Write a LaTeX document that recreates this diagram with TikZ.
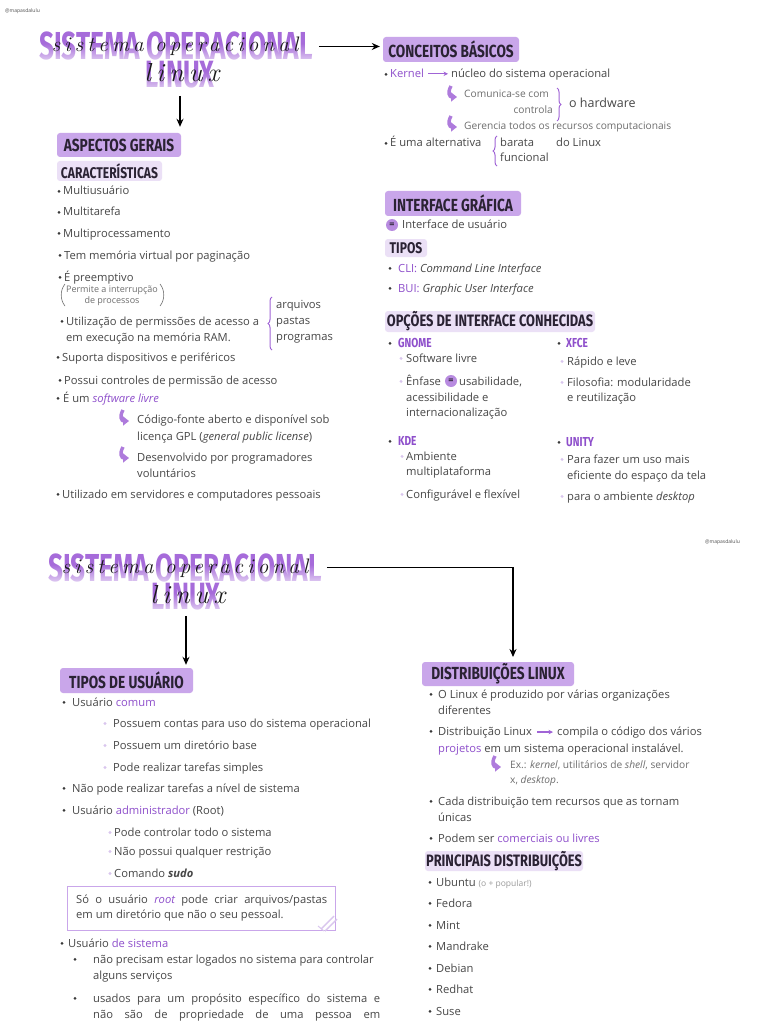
\documentclass[tikz,border=0pt]{standalone}
\usepackage{fontspec}
\setmainfont{Open Sans}
\newfontfamily\hfont{Fira Sans}[FakeStretch=0.78]
\newfontfamily\tfont{Fira Sans}[FakeStretch=0.672]
\newfontfamily\cursf{Latin Modern Roman}[LetterSpace=20]
\usetikzlibrary{arrows.meta,decorations.pathreplacing,calc,fadings}
\definecolor{hdark}{HTML}{C9A6EA}
\definecolor{hlight}{HTML}{EBE0F6}
\definecolor{purp}{HTML}{A064D6}
\definecolor{ptxt}{HTML}{8E4FCB}
\definecolor{bodyc}{HTML}{474747}
\definecolor{gtxt}{HTML}{6E6E6E}
\definecolor{lbulc}{HTML}{D9C6EE}
\definecolor{hd}{HTML}{2A2233}
\definecolor{tpa}{HTML}{A66BDA}
\newcounter{nn}
\def\zTx#1#2#3{\stepcounter{nn}\node[txt] (t\arabic{nn}) at (#1,#2) {#3};}
\def\zSm#1#2#3{\stepcounter{nn}\node[smt] (t\arabic{nn}) at (#1,#2) {#3};}
\def\zBu#1#2{\fill[bodyc!80!black] (#1,#2-3.6) circle (1.5pt);}
\def\zLb#1#2{\fill[lbulc] (#1,#2-3.6) circle (1.6pt);}
\def\zHk#1#2{\draw[hookarr] (#1,#2) .. controls (#1-4,#2+7) and (#1-1,#2+11) .. (#1+6,#2+11);}
\def\zTitle#1#2#3#4#5{%
  \node[ttl, font=\tfont\bfseries\fontsize{#4}{#4}\selectfont, text=tpa] (#1) at (#2,#3) {#5};
  \fill[white, fill opacity=0.72, path fading=north] (#1.west |- 0,{#3-0.69*#4*0.62}) rectangle ([xshift=2pt,yshift=-3pt]#1.base east);}
\begin{document}
\begin{tikzpicture}[x=1pt,y=-1pt,
  txt/.style={font=\fontsize{11.2}{13}\selectfont, text=bodyc, inner sep=0pt, anchor=base west},
  smt/.style={font=\fontsize{10.2}{12}\selectfont, text=gtxt, inner sep=0pt, anchor=base west},
  tiny/.style={font=\fontsize{9}{10}\selectfont, text=gtxt, inner sep=0pt, anchor=base},
  sig/.style={font=\fontsize{5}{5}\selectfont, text=black!70, inner sep=0pt, anchor=base west},
  ttl/.style={inner sep=0pt, anchor=base},
  curs/.style={font=\cursf\itshape\fontsize{21}{21}\selectfont, text=black!90, inner sep=0pt, anchor=base},
  hbox/.style={fill=hdark, rounded corners=3pt, inner sep=0pt, text=hd, font=\hfont\bfseries\fontsize{17.5}{17.5}\selectfont},
  lbox/.style={fill=hlight, rounded corners=3pt, inner sep=0pt, text=hd, font=\hfont\bfseries\fontsize{15.5}{15.5}\selectfont},
  plab/.style={font=\hfont\bfseries\fontsize{13}{13}\selectfont, text=ptxt, inner sep=0pt, anchor=base west},
  eqc/.style={circle, fill=purp!75, inner sep=0pt, minimum size=12pt, text=hd, font=\bfseries\fontsize{9}{9}\selectfont},
  arr/.style={-{Stealth[length=8pt,width=7pt]}, line width=1.4pt, black},
  parr/.style={-{Stealth[length=4.5pt,width=4.5pt]}, line width=1.2pt, purp},
  brc/.style={decorate, decoration={brace, amplitude=4pt}, draw=purp, line width=1pt},
  hookarr/.style={-{Triangle[length=6pt,width=9pt]}, line width=3.4pt, draw=purp!85},
]
\fill[white] (0,0) rectangle (768,1024);
\useasboundingbox (0,0) rectangle (768,1024);

% ================= TOP HALF =================
\node[sig] (sig1) at (5,13) {@mapasdalulu};
\zTitle{t1}{176}{60}{39}{SISTEMA OPERACIONAL}
\zTitle{t1b}{180}{88}{38}{LINUX}
\node[curs] (c1) at (175,52) {sistema operacional};
\node[curs, font=\cursf\itshape\fontsize{26}{26}\selectfont] (c1b) at (182,82) {linux};

\node[hbox, minimum width=124pt, minimum height=24pt] (asp) at (119,145) {ASPECTOS GERAIS};
\node[lbox, minimum width=105pt, minimum height=20pt] (car) at (109.5,171) {CARACTERÍSTICAS};
\node[hbox, minimum width=136pt, minimum height=25pt] (conc) at (451,49.5) {CONCEITOS BÁSICOS};

\draw[arr, shorten <=6pt, shorten >=3pt] (t1.east) -- (t1.east -| conc.west);
\draw[arr, shorten <=7pt, shorten >=6pt] (t1b.south) -- (t1b.south |- asp.north);

% left column
\zBu{59}{195}\zTx{63}{195}{Multiusuário}
\zBu{59}{216}\zTx{63}{216}{Multitarefa}
\zBu{59}{237}\zTx{63}{237}{Multiprocessamento}
\zBu{60}{259}\zTx{64}{259}{Tem memória virtual por paginação}
\zBu{60}{281}\zTx{64}{281}{É preemptivo}
\node[tiny] (pa) at (112,292) {Permite a interrupção};
\node[tiny] (pb) at (112,303) {de processos};
\draw[gtxt, line width=0.6pt] (65,284) .. controls (60,290) and (60,300) .. (65,306);
\draw[gtxt, line width=0.6pt] (160,284) .. controls (165,290) and (165,300) .. (160,306);
\zBu{62}{325}\zTx{66}{325}{Utilização de permissões de acesso a}
\zTx{66}{341}{em execução na memória RAM.}
\draw[brc] (272,350) -- (272,297);
\zTx{276}{308}{arquivos}
\zTx{276}{324}{pastas}
\zTx{276}{340}{programas}
\zBu{58}{361}\zTx{62}{361}{Suporta dispositivos e periféricos}
\zBu{60}{384}\zTx{64}{384}{Possui controles de permissão de acesso}
\zBu{58}{402}\zTx{63}{402}{É um \textit{\color{ptxt}software livre}}
\zHk{123}{410}
\zTx{137}{423}{Código-fonte aberto e disponível sob}
\zTx{137}{440}{licença GPL (\textit{general public license})}
\zHk{123}{447}
\zTx{137}{461}{Desenvolvido por programadores}
\zTx{137}{477}{voluntários}
\zBu{58}{498}\zTx{62}{498}{Utilizado em servidores e computadores pessoais}

% right column top
\zBu{386}{78}
\node[txt, text=ptxt] (kern) at (390,78) {Kernel};
\node[txt] (nuc) at (451,78) {núcleo do sistema operacional};
\draw[parr, shorten <=4pt, shorten >=3pt] (kern.east) -- (kern.east -| nuc.west);
\zHk{451}{86}
\zSm{464}{98}{Comunica-se com}
\node[smt, anchor=base east] (ctl) at (553,114) {controla};
\draw[brc] (557,88) -- (557,121);
\node[txt, font=\fontsize{12.5}{14}\selectfont] (hw) at (569,108) {o hardware};
\zHk{451}{116}
\zSm{464}{130}{Gerencia todos os recursos computacionais}
\zBu{386}{147}\zTx{390}{147}{É uma alternativa}
\draw[brc] (497,166) -- (497,136);
\zTx{500}{147}{barata}
\zTx{500}{162}{funcional}
\zTx{556}{147}{do Linux}

\node[hbox, minimum width=136pt, minimum height=25pt] (intf) at (453,203.5) {INTERFACE GRÁFICA};
\node[eqc] (eq1) at (392,225) {=};
\zTx{402}{229}{Interface de usuário}
\node[lbox, minimum width=42pt, minimum height=18pt] (tipos) at (406,248) {TIPOS};
\zBu{390}{272}\zTx{398}{272}{{\color{ptxt}CLI:} \textit{Command Line Interface}}
\zBu{390}{292}\zTx{398}{292}{{\color{ptxt}BUI:} \textit{Graphic User Interface}}

\node[lbox, minimum width=210pt, minimum height=21pt, font=\hfont\bfseries\fontsize{16.5}{16.5}\selectfont] (opc) at (490,321.5) {OPÇÕES DE INTERFACE CONHECIDAS};
\zBu{390}{347}\node[plab] (gn) at (398,347) {GNOME};
\zLb{401}{362}\zTx{406}{362}{Software livre}
\zLb{401}{385}\zTx{406}{385}{Ênfase}
\node[eqc] (eq2) at (451,381) {=};
\zTx{459}{385}{usabilidade,}
\zTx{406}{401}{acessibilidade e}
\zTx{406}{416}{internacionalização}
\zBu{390}{445}\node[plab] (kde) at (398,445) {KDE};
\zLb{402}{460}\zTx{406}{460}{Ambiente}
\zTx{406}{475}{multiplataforma}
\zLb{402}{498}\zTx{406}{498}{Configurável e flexível}
\zBu{559}{347}\node[plab] (xf) at (566,347) {XFCE};
\zLb{562}{365}\zTx{567}{365}{Rápido e leve}
\zLb{562}{386}\zTx{567}{386}{Filosofia: modularidade}
\zTx{567}{401}{e reutilização}
\zBu{559}{446}\node[plab] (un) at (566,446) {UNITY};
\zLb{562}{463}\zTx{567}{463}{Para fazer um uso mais}
\zTx{567}{479}{eficiente do espaço da tela}
\zLb{562}{500}\zTx{567}{500}{para o ambiente \textit{desktop}}

% ================= BOTTOM HALF =================
\node[sig] (sig2) at (705,543) {@mapasdalulu};
\zTitle{t2}{185}{581}{39}{SISTEMA OPERACIONAL}
\zTitle{t2b}{186}{609}{38}{LINUX}
\node[curs] (c2) at (185,573) {sistema operacional};
\node[curs, font=\cursf\itshape\fontsize{26}{26}\selectfont] (c2b) at (188,603) {linux};

\node[hbox, minimum width=133pt, minimum height=25pt] (tu) at (126.5,680.5) {TIPOS DE USUÁRIO};
\node[hbox, minimum width=152pt, minimum height=24pt] (dist) at (498,674) {DISTRIBUIÇÕES LINUX};
\coordinate (dcorner) at (513,657);
\draw[arr, shorten <=5pt] (t2.east) -| (dcorner);
\draw[arr, shorten <=6pt, shorten >=3pt] (t2b.south) -- (t2b.south |- tu.north);

\zBu{64}{706}\zTx{72}{706}{Usuário {\color{ptxt}comum}}
\zLb{105}{727}\zTx{113}{727}{Possuem contas para uso do sistema operacional}
\zLb{105}{749}\zTx{113}{749}{Possuem um diretório base}
\zLb{105}{771}\zTx{113}{771}{Pode realizar tarefas simples}
\zBu{64}{792}\zTx{72}{792}{Não pode realizar tarefas a nível de sistema}
\zBu{64}{814}\zTx{72}{814}{Usuário {\color{ptxt}administrador} (Root)}
\zLb{110}{836}\zTx{114}{836}{Pode controlar todo o sistema}
\zLb{110}{855}\zTx{114}{855}{Não possui qualquer restrição}
\zLb{110}{877}\zTx{114}{877}{Comando \textbf{\textit{sudo}}}
\node[draw=hdark, line width=0.9pt, minimum width=268pt, minimum height=44pt, inner sep=0pt] (rootbox) at (201,908) {};
\zTx{76}{903}{\makebox[251pt][s]{Só o usuário \textit{\color{ptxt}root} pode criar arquivos/pastas}}
\zTx{76}{918}{em um diretório que não o seu pessoal.}
\draw[lbulc, line width=1.4pt] (321,929) -- (334,916);
\draw[lbulc, line width=1.4pt] (325,931) -- (337,919);
\draw[lbulc, line width=1pt] (318,926) -- (324,931);
\zBu{62}{947}\zTx{68}{947}{Usuário {\color{ptxt}de sistema}}
\zBu{75}{963}\zTx{93}{963}{não precisam estar logados no sistema para controlar}
\zTx{93}{979}{alguns serviços}
\zBu{75}{1002}\zTx{93}{1002}{\makebox[287pt][s]{usados para um propósito específico do sistema e}}
\zTx{93}{1018}{\makebox[287pt][s]{não são de propriedade de uma pessoa em}}
\zTx{93}{1034}{particular.}

\zBu{431}{698}\zTx{438}{698}{O Linux é produzido por várias organizações}
\zTx{438}{714}{diferentes}
\zBu{431}{735}
\node[txt] (dl) at (438,735) {Distribuição Linux};
\node[txt] (comp) at (557,735) {compila o código dos vários};
\draw[parr, shorten <=5pt, shorten >=4pt] (dl.east) -- (dl.east -| comp.west);
\zTx{438}{752}{{\color{ptxt}projetos} em um sistema operacional instalável.}
\zHk{495}{756}
\zSm{510}{768}{Ex.: \textit{kernel}, utilitários de \textit{shell}, servidor}
\zSm{510}{783}{x, \textit{desktop}.}
\zBu{431}{805}\zTx{438}{805}{Cada distribuição tem recursos que as tornam}
\zTx{438}{821}{únicas}
\zBu{431}{842}\zTx{438}{842}{Podem ser {\color{ptxt}comerciais ou livres}}
\node[lbox, minimum width=158pt, minimum height=20pt, font=\hfont\bfseries\fontsize{16.5}{16.5}\selectfont] (princ) at (504,861) {PRINCIPAIS DISTRIBUIÇÕES};
\zBu{430}{886}\zTx{436}{886}{Ubuntu {\color{gtxt!70}\fontsize{8.5}{10}\selectfont(o + popular!)}}
\zBu{430}{907}\zTx{436}{907}{Fedora}
\zBu{430}{929}\zTx{436}{929}{Mint}
\zBu{430}{950}\zTx{436}{950}{Mandrake}
\zBu{430}{972}\zTx{436}{972}{Debian}
\zBu{430}{993}\zTx{436}{993}{Redhat}
\zBu{430}{1015}\zTx{436}{1015}{Suse}
\end{tikzpicture}
\end{document}
